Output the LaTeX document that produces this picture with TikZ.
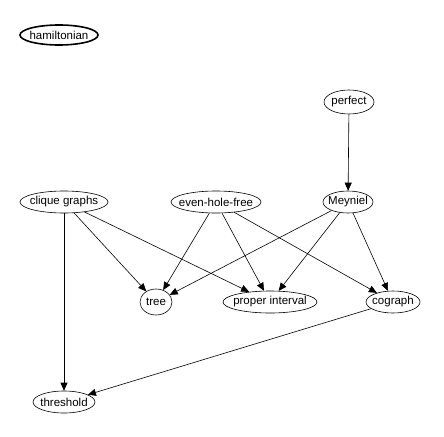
\documentclass[tikz,border=0pt]{standalone}
\usepackage{fontspec}
\setmainfont{Liberation Sans}
\usetikzlibrary{shapes.geometric,arrows.meta}
\newcommand{\zlbl}[1]{\makebox[0pt]{#1}}
\tikzset{
  gnode/.style={draw, ellipse, inner sep=0pt, minimum height=22pt, font=\fontsize{11.5}{13}\selectfont, line width=0.6pt},
  edge/.style={-{Triangle[length=8pt,width=7pt]}, line width=0.6pt}
}
\begin{document}
\begin{tikzpicture}[x=1pt,y=-1pt]
\useasboundingbox[fill=white] (0,0) rectangle (444,436);
\node[gnode, line width=1.6pt, minimum width=78pt, minimum height=20pt] (ham) at (59,35) {\zlbl{hamiltonian}};
\node[gnode, minimum width=50pt, minimum height=24pt] (perf) at (349,102) {\zlbl{perfect}};
\node[gnode, minimum width=88pt] (cliq) at (64,202) {\zlbl{clique graphs}};
\node[gnode, minimum width=90pt] (ehf) at (216,202) {\zlbl{even-hole-free}};
\node[gnode, minimum width=50pt] (mey) at (348,202) {\zlbl{Meyniel}};
\node[gnode, minimum width=32pt, minimum height=26pt] (tree) at (156,302) {\zlbl{tree}};
\node[gnode, minimum width=94pt] (pint) at (270,302) {\zlbl{proper interval}};
\node[gnode, minimum width=54pt] (cog) at (393,302) {\zlbl{cograph}};
\node[gnode, minimum width=62pt] (thr) at (64,402) {\zlbl{threshold}};
\draw[edge] (perf) -- (mey);
\draw[edge] (cliq) -- (thr);
\draw[edge] (cliq) -- (tree);
\draw[edge] (cliq) -- (pint);
\draw[edge] (ehf) -- (tree);
\draw[edge] (ehf) -- (pint);
\draw[edge] (ehf) -- (cog);
\draw[edge] (mey) -- (tree);
\draw[edge] (mey) -- (pint);
\draw[edge] (mey) -- (cog);
\draw[edge] (cog) -- (thr);
\end{tikzpicture}
\end{document}
